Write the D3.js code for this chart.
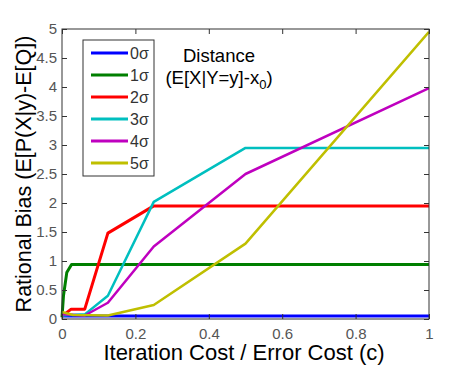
<!DOCTYPE html>
<meta charset="utf-8">
<script src="https://d3js.org/d3.v7.min.js"></script>
<style>
  body { margin: 0; background: #fff; }
  text { font-family: "Liberation Sans", Arial, sans-serif; }
</style>
<div id="chart"></div>
<script>
  // series values: [c, bias]
  var seriesNames = ["0\u03c3", "1\u03c3", "2\u03c3", "3\u03c3", "4\u03c3", "5\u03c3"];
  var seriesColors = ["#0000ff", "#007f00", "#ff0000", "#00bfbf", "#bf00bf", "#bfbf00"];
  var sigma0 = [[0, 0.05], [1, 0.05]];
  var sigma1 = [[0, 0.03], [0.004, 0.4], [0.013, 0.8], [0.026, 0.94], [1, 0.94]];
  var sigma2 = [[0, 0.05], [0.025, 0.17], [0.062, 0.17], [0.125, 1.48], [0.25, 1.95], [1, 1.95]];
  var sigma3 = [[0, 0.06], [0.062, 0.08], [0.125, 0.4], [0.25, 2.02], [0.5, 2.95], [1, 2.95]];
  var sigma4 = [[0, 0.08], [0.062, 0.06], [0.125, 0.28], [0.25, 1.25], [0.5, 2.5], [1, 3.98]];
  var sigma5 = [[0, 0.12], [0.03, 0.07], [0.125, 0.06], [0.25, 0.24], [0.5, 1.3], [1, 4.95]];
  var allSeries = [sigma0, sigma1, sigma2, sigma3, sigma4, sigma5];
  var xTicks = [0, 0.2, 0.4, 0.6, 0.8, 1];
  var yTicks = [0, 0.5, 1, 1.5, 2, 2.5, 3, 3.5, 4, 4.5, 5];

  var W = 474, H = 366;
  var margin = {top: 29, right: 45, bottom: 47, left: 62},
      width = 429 - margin.left,
      height = 319 - margin.top;

  var svg = d3.select("#chart").append("svg")
      .attr("width", W).attr("height", H);
  var g = svg.append("g")
      .attr("transform", "translate(" + margin.left + "," + margin.top + ")");

  var x = d3.scaleLinear().domain([0, 1]).range([0, width]);
  var y = d3.scaleLinear().domain([0, 5]).range([height, 0]);

  // lines
  var line = d3.line()
    .x(function(d) { return x(d[0]); })
    .y(function(d) { return y(d[1]); });

  g.append("clipPath").attr("id", "clip")
    .append("rect").attr("x", -2).attr("y", -2).attr("width", width + 2).attr("height", height + 2);

  g.append("g").attr("clip-path", "url(#clip)")
    .selectAll("path")
    .data(allSeries)
    .enter()
    .append("path")
      .attr("d", line)
      .attr("fill", "none")
      .attr("stroke", function(d, i) { return seriesColors[i]; })
      .attr("stroke-width", function(d, i) { return i < 3 ? 3 : 2.5; })
      .attr("stroke-linejoin", "round");

  // axes, ticks pointing inward
  var axisColor = "#333";
  function styleAxis(sel) {
    sel.select(".domain").remove();
    sel.selectAll("line").attr("stroke", axisColor);
    sel.selectAll("text").attr("fill", "#555").style("font-size", "15px");
  }
  g.append("g")
    .attr("transform", "translate(0," + height + ")")
    .call(d3.axisBottom(x).tickValues(xTicks).tickSize(-5).tickPadding(9).tickFormat(d3.format("")))
    .call(styleAxis);
  g.append("g")
    .call(d3.axisTop(x).tickValues(xTicks).tickSize(-5).tickFormat(""))
    .call(styleAxis);
  g.append("g")
    .call(d3.axisLeft(y).tickValues(yTicks).tickSize(-5).tickPadding(5).tickFormat(d3.format("")))
    .call(styleAxis);
  g.append("g")
    .attr("transform", "translate(" + width + ",0)")
    .call(d3.axisRight(y).tickValues(yTicks).tickSize(-5).tickFormat(""))
    .call(styleAxis);

  g.append("rect")
    .attr("width", width).attr("height", height)
    .attr("fill", "none").attr("stroke", axisColor).attr("stroke-width", 1);

  // legend
  var legend = g.append("g").attr("transform", "translate(21,11)");
  legend.append("rect")
    .attr("width", 71).attr("height", 136)
    .attr("fill", "#fff").attr("stroke", axisColor);
  var items = legend.selectAll("g.item")
    .data(seriesNames)
    .enter().append("g")
      .attr("transform", function(d, i) { return "translate(0," + (13 + i * 22) + ")"; });
  items.append("line")
    .attr("x1", 8).attr("x2", 45)
    .attr("stroke", function(d, i) { return seriesColors[i]; })
    .attr("stroke-width", 3);
  items.append("text")
    .attr("x", 47).attr("y", 6)
    .style("font-size", "16px").attr("fill", "#333")
    .text(function(d) { return d; });

  // annotation
  var note = g.append("text")
    .attr("text-anchor", "middle")
    .style("font-size", "18.5px").attr("fill", "#000");
  note.append("tspan").attr("x", 157).attr("y", 33).text("Distance");
  var l2 = note.append("tspan").attr("x", 157).attr("y", 55).text("(E[X|Y=y]-x");
  l2.append("tspan").attr("dy", 5).style("font-size", "13px").text("0");
  l2.append("tspan").attr("dy", -5).text(")");

  // axis labels
  svg.append("text")
    .attr("text-anchor", "middle")
    .attr("x", 244)
    .attr("y", 360)
    .style("font-size", "22px")
    .text("Iteration Cost / Error Cost (c)");

  svg.append("text")
    .attr("text-anchor", "middle")
    .attr("transform", "translate(31,174)rotate(-90)")
    .style("font-size", "21.5px")
    .text("Rational Bias (E[P(X|y)-E[Q])");
</script>
